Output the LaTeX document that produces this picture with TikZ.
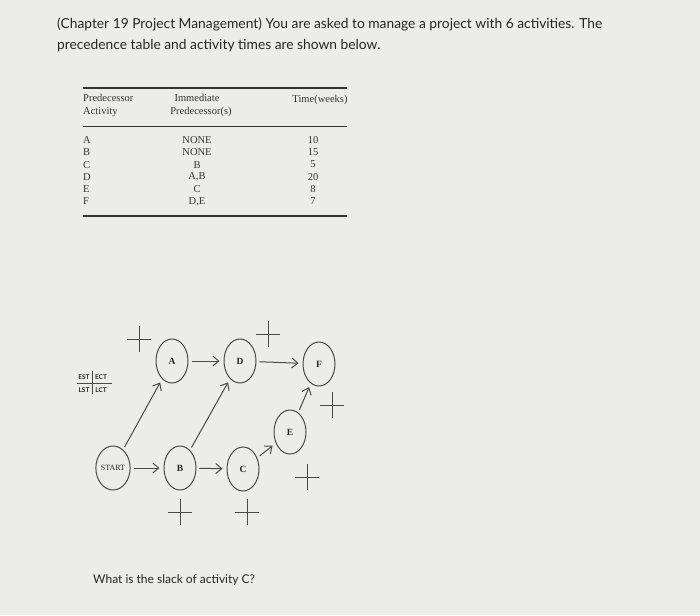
\documentclass[tikz,border=0pt]{standalone}
\usepackage{fontspec}
\setmainfont{Liberation Serif}
\newfontfamily\latofont{Lato}
\usetikzlibrary{shapes.geometric,arrows.meta,positioning}
\definecolor{paper}{HTML}{ECECEA}
\definecolor{ink}{HTML}{262626}
\definecolor{tabink}{HTML}{333333}
\definecolor{linegray}{HTML}{4A4A4A}
\tikzset{>={Straight Barb[length=6pt,width=10pt]}}
\tikzset{
	event/.style={ellipse,draw=linegray,line width=1pt,minimum width=32pt,
		minimum height=44pt,inner sep=0pt,text=ink,
		font=\fontsize{9.5}{10}\selectfont\bfseries},
	link/.style={->,draw=linegray,line width=1pt,shorten >=4pt,shorten <=3pt},
	question/.style={anchor=base west,inner sep=0pt,text=ink,
		font=\latofont\fontsize{13.8}{16}\selectfont},
	tabtext/.style={inner sep=0pt,text=tabink,font=\fontsize{10.5}{11}\selectfont},
	legend/.style={inner sep=0pt,text=ink,font=\latofont\bfseries\fontsize{6.5}{7}\selectfont}
}
\newcommand{\drawCross}[2]{
	\draw[linegray,line width=1pt] (#1-12,#2) -- (#1+12,#2) (#1,#2-13) -- (#1,#2+13);
}

\begin{document}
\begin{tikzpicture}[x=1pt,y=-1pt]

	\fill[paper] (0,0) rectangle (700,615);
	\useasboundingbox (0,0) rectangle (700,615);

	% question text
	\node[question] (title1) at (57,29) {(Chapter 19 Project Management)\ You are asked to manage a project with 6 activities. The};
	\node[question] (title2) at (57,50) {precedence table and activity times are shown below.};
	\node[question,font=\latofont\fontsize{12}{14}\selectfont] (ask) at (93,583) {What is the slack of activity C?};

	% precedence table
	\draw[tabink,line width=1.2pt] (83,88) -- (347,88);
	\draw[tabink,line width=1pt] (83,126) -- (347,126);
	\draw[tabink,line width=1.2pt] (83,216) -- (347,216);
	\node[tabtext,anchor=west] (h1) at (83,98) {Predecessor};
	\node[tabtext,anchor=west] (h2) at (83,112) {Activity};
	\node[tabtext] (h3) at (197,98) {Immediate};
	\node[tabtext] (h4) at (201,112) {Predecessor(s)};
	\node[tabtext] (h5) at (320,100) {Time(weeks)};
	\foreach \act/\pred/\wks [count=\i] in {A/NONE/10,B/NONE/15,C/B/5,D/{A,B}/20,E/C/8,F/{D,E}/7}{
		\pgfmathsetmacro{\y}{140+(\i-1)*12.3};
		\node[tabtext,anchor=west] (act\i) at (83,\y) {\act};
		\node[tabtext] (pred\i) at (197,\y) {\pred};
		\node[tabtext] (wks\i) at (313,\y) {\wks};
	}

	% legend
	\node[legend] (est) at (84,377) {EST};
	\node[legend] (ect) at (101,377) {ECT};
	\node[legend] (lst) at (84,390) {LST};
	\node[legend] (lct) at (101,390) {LCT};
	\draw[linegray,line width=0.6pt] (77,383) -- (112,383) (92,371) -- (92,394);

	% network
	\node[event,font=\fontsize{8}{8}\selectfont,minimum width=34pt] (start) at (113,468) {START};
	\node[event] (a) at (172,361) {A};
	\node[event] (b) at (180,468) {B};
	\node[event] (c) at (243,469) {C};
	\node[event] (d) at (240,361) {D};
	\node[event] (e) at (290,432) {E};
	\node[event] (f) at (319,364) {F};

	\draw[link] (start) -- (a);
	\draw[link] (start) -- (b);
	\draw[link] (a) -- (d);
	\draw[link] (b) -- (d);
	\draw[link] (d) -- (f);
	\draw[link] (b) -- (c);
	\draw[link] (c) -- (e);
	\draw[link] (e) -- (f);

	% time boxes
	\foreach \x/\y in {139/339,268/334,332/405,307/477,180/512,247/512}{
		\drawCross{\x}{\y}
	}

\end{tikzpicture}
\end{document}
